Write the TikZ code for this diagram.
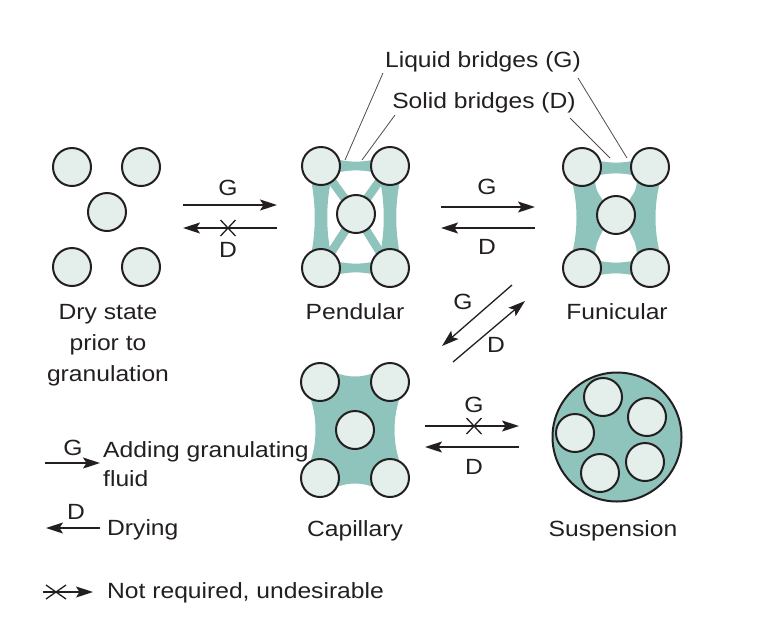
\documentclass[tikz,border=0pt]{standalone}
\usepackage{fontspec}
\setmainfont{Liberation Sans}[FakeStretch=1.12]
\usetikzlibrary{arrows.meta,calc}
\definecolor{bridge}{HTML}{8EC4BB}
\definecolor{part}{HTML}{E4EFEB}
\definecolor{ink}{HTML}{231F20}
\begin{document}
\begin{tikzpicture}[x=1pt,y=-1pt,
  particle/.style={circle,draw=ink,line width=2pt,fill=part,minimum size=38pt,inner sep=0pt},
  lbl/.style={font=\fontsize{22}{31}\selectfont,text=ink,inner sep=0pt},
  conn/.style={draw=ink,line width=1.3pt,-{Stealth[length=17pt,width=11pt,inset=3.5pt]}},
  xmark/.style={draw=ink,line width=1.3pt},
  leader/.style={draw=ink!80,line width=0.8pt},
  liquid/.style={fill=bridge},
  diag/.style={draw=bridge,line width=8.5pt}]
\useasboundingbox (0,0) rectangle (768,625);

% ---------- Dry state ----------
\node[particle] (d1) at (72,167) {};
\node[particle] (d2) at (141,167) {};
\node[particle] (d3) at (107,212) {};
\node[particle] (d4) at (72,267) {};
\node[particle] (d5) at (141,267) {};
\node[lbl,anchor=base] (dl1) at (108,319) {Dry state};
\node[lbl,anchor=base] (dl2) at (108,350) {prior to};
\node[lbl,anchor=base] (dl3) at (108,381) {granulation};

% ---------- Pendular ----------
\coordinate (pTL) at (321,166);
\coordinate (pTR) at (390,166);
\coordinate (pC) at (356,214);
\coordinate (pBL) at (321,268);
\coordinate (pBR) at (390,268);
\draw[diag] (pTL) -- (pC) -- (pBR);
\draw[diag] (pTR) -- (pC) -- (pBL);
\fill[liquid] (335,159) .. controls (350,162.5) and (362,162.5) .. (377,159) -- (377,173) .. controls (362,169.5) and (350,169.5) .. (335,173) -- cycle;
\fill[liquid] (335,261) .. controls (350,264.5) and (362,264.5) .. (377,261) -- (377,275) .. controls (362,271.5) and (350,271.5) .. (335,275) -- cycle;
\fill[liquid] (311,180) .. controls (316,205) and (316,230) .. (311,255) -- (331,255) .. controls (326,230) and (326,205) .. (331,180) -- cycle;
\fill[liquid] (380,180) .. controls (385,205) and (385,230) .. (380,255) -- (400,255) .. controls (395,230) and (395,205) .. (400,180) -- cycle;
\node[particle] (p1) at (pTL) {};
\node[particle] (p2) at (pTR) {};
\node[particle] (p3) at (pC) {};
\node[particle] (p4) at (pBL) {};
\node[particle] (p5) at (pBR) {};
\node[lbl,anchor=base] (pl) at (355,319) {Pendular};

% ---------- Funicular ----------
\fill[liquid] (595,160) .. controls (610,163.5) and (622,163.5) .. (637,160) -- (637,176) .. controls (622,172.5) and (610,172.5) .. (595,176) -- cycle;
\fill[liquid] (595,260) .. controls (610,263.5) and (622,263.5) .. (637,260) -- (637,276) .. controls (622,272.5) and (610,272.5) .. (595,276) -- cycle;
\fill[liquid] (572,182) .. controls (578,205) and (578,230) .. (572,254) -- (582,268) -- (595,255) .. controls (596,244) .. (604,228) -- (616,215) -- (604,202) .. controls (596,190) .. (595,180) -- (582,167) -- cycle;
\fill[liquid] (660,182) .. controls (654,205) and (654,230) .. (660,254) -- (650,268) -- (637,255) .. controls (636,244) .. (628,228) -- (616,215) -- (628,202) .. controls (636,190) .. (637,180) -- (650,167) -- cycle;
\node[particle] (f1) at (582,167) {};
\node[particle] (f2) at (650,167) {};
\node[particle] (f3) at (616,215) {};
\node[particle] (f4) at (582,268) {};
\node[particle] (f5) at (650,268) {};
\node[lbl,anchor=base] (fl) at (617,319) {Funicular};

% ---------- Capillary ----------
\fill[liquid] (320,382) -- (308,392) .. controls (318,415) and (318,445) .. (308,468) -- (320,478) -- (334,488) .. controls (348,482) and (362,482) .. (376,488) -- (390,478) -- (402,468) .. controls (392,445) and (392,415) .. (402,392) -- (390,382) -- (376,372) .. controls (362,378) and (348,378) .. (334,372) -- cycle;
\node[particle] (c1) at (320,382) {};
\node[particle] (c2) at (390,382) {};
\node[particle] (c3) at (355,430) {};
\node[particle] (c4) at (320,478) {};
\node[particle] (c5) at (390,478) {};
\node[lbl,anchor=base] (cl) at (355,536) {Capillary};

% ---------- Suspension ----------
\node[circle,draw=ink,line width=2pt,fill=bridge,minimum size=129pt,inner sep=0pt] (sb) at (617,437) {};
\node[particle] (s1) at (603,397) {};
\node[particle] (s2) at (647,417) {};
\node[particle] (s3) at (575,433) {};
\node[particle] (s4) at (645,462) {};
\node[particle] (s5) at (600,473) {};
\node[lbl,anchor=base] (sl) at (613,536) {Suspension};

% ---------- Bridge labels ----------
\node[lbl,anchor=base] (lqb) at (483,67) {Liquid bridges (G)};
\node[lbl,anchor=base] (sdb) at (484,108) {Solid bridges (D)};
\coordinate (lq1a) at (383,73);  \coordinate (lq1b) at (345,160);
\coordinate (sd1a) at (395,115); \coordinate (sd1b) at (362,160);
\coordinate (lq2a) at (578,78);  \coordinate (lq2b) at (627,158);
\coordinate (sd2a) at (570,118); \coordinate (sd2b) at (610,158);
\draw[leader] (lq1a) -- (lq1b);
\draw[leader] (sd1a) -- (sd1b);
\draw[leader] (lq2a) -- (lq2b);
\draw[leader] (sd2a) -- (sd2b);

% ---------- Arrows: dry <-> pendular ----------
\coordinate (a1s) at (183,205); \coordinate (a1e) at (277,205);
\coordinate (a2s) at (277,228); \coordinate (a2e) at (183,228);
\draw[conn] (a1s) -- (a1e);
\draw[conn] (a2s) -- (a2e);
\coordinate (x1) at (228,228);
\draw[xmark] ($(x1)+(-7.5,-8)$) -- ($(x1)+(7.5,8)$);
\draw[xmark] ($(x1)+(-7.5,8)$) -- ($(x1)+(7.5,-8)$);
\node[lbl] (g1) at (228,188) {G};
\node[lbl] (dd1) at (228,250) {D};

% ---------- Arrows: pendular <-> funicular ----------
\coordinate (b1s) at (441,207); \coordinate (b1e) at (535,207);
\coordinate (b2s) at (535,228); \coordinate (b2e) at (441,228);
\draw[conn] (b1s) -- (b1e);
\draw[conn] (b2s) -- (b2e);
\node[lbl] (g2) at (487,187) {G};
\node[lbl] (dd2) at (487,247) {D};

% ---------- Diagonal arrows ----------
\coordinate (c1s) at (512,285); \coordinate (c1e) at (442,346);
\coordinate (c2s) at (453,362); \coordinate (c2e) at (525,301);
\draw[conn] (c1s) -- (c1e);
\draw[conn] (c2s) -- (c2e);
\node[lbl] (g3) at (463,302) {G};
\node[lbl] (dd3) at (496,345) {D};

% ---------- Arrows: capillary <-> suspension ----------
\coordinate (e1s) at (425,426); \coordinate (e1e) at (519,426);
\coordinate (e2s) at (519,447); \coordinate (e2e) at (425,447);
\draw[conn] (e1s) -- (e1e);
\draw[conn] (e2s) -- (e2e);
\coordinate (x2) at (474,426);
\draw[xmark] ($(x2)+(-7.5,-8)$) -- ($(x2)+(7.5,8)$);
\draw[xmark] ($(x2)+(-7.5,8)$) -- ($(x2)+(7.5,-8)$);
\node[lbl] (g4) at (474,405) {G};
\node[lbl] (dd4) at (474,467) {D};

% ---------- Legend ----------
\coordinate (lg1s) at (45,463); \coordinate (lg1e) at (100,463);
\draw[conn] (lg1s) -- (lg1e);
\node[lbl] (lgG) at (73,448) {G};
\node[lbl,anchor=base west] (lgt1) at (103,457) {Adding granulating};
\node[lbl,anchor=base west] (lgt2) at (103,486) {fluid};
\coordinate (lg2s) at (100,528); \coordinate (lg2e) at (46,528);
\draw[conn] (lg2s) -- (lg2e);
\node[lbl] (lgD) at (76,512) {D};
\node[lbl,anchor=base west] (lgt3) at (107,535) {Drying};
\coordinate (lg3s) at (43,592); \coordinate (lg3e) at (93,592);
\draw[conn] (lg3s) -- (lg3e);
\coordinate (x3) at (56,592);
\draw[xmark] ($(x3)+(-10,-7)$) -- ($(x3)+(10,7)$);
\draw[xmark] ($(x3)+(-10,7)$) -- ($(x3)+(10,-7)$);
\node[lbl,anchor=base west] (lgt4) at (107,598) {Not required, undesirable};
\end{tikzpicture}
\end{document}
